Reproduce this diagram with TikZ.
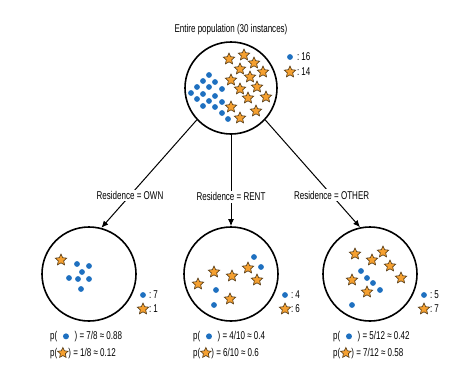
\documentclass[tikz,border=0pt]{standalone}
\usepackage{fontspec}
\setmainfont{Liberation Sans}[FakeStretch=0.71]
\usetikzlibrary{shapes.geometric,arrows.meta}
\definecolor{dotblue}{RGB}{30,112,192}
\definecolor{starorange}{RGB}{245,160,48}
\definecolor{staredge}{RGB}{80,55,20}
\tikzset{
  bdot/.style={circle,fill=dotblue,minimum size=5.8pt,inner sep=0pt},
  ostar/.style={star,star points=5,star point ratio=2.1,minimum size=12pt,inner sep=0pt,fill=starorange,draw=staredge,line width=0.6pt},
  group/.style={circle,draw,line width=1.6pt,inner sep=0pt},
  branch/.style={line width=1pt,-{Latex[length=7pt,width=6pt]}},
  cond/.style={fill=white,inner sep=1.5pt},
  count/.style={anchor=west,inner sep=0pt},
}
\newcommand{\sdot}{\tikz[baseline=-0.6ex]\node[bdot,minimum size=6pt]{};}
\newcommand{\sstar}{\tikz[baseline=-0.6ex]\node[ostar,minimum size=11pt]{};}
\begin{document}
\begin{tikzpicture}[x=1pt,y=-1pt,font=\fontsize{11.3pt}{13pt}\selectfont]
			\useasboundingbox (0,0) rectangle (474,367);
			% parent
			\node (title) at (231,30) {Entire population (30 instances)};
			\node[group,minimum size=92pt] (top) at (231,88) {};
			\foreach \x/\y [count=\i] in {209/75,203/81,215/82,197/87,209/87,222/89,191/93,203/94,215/96,197/99,209/101,222/102,203/106,215/107,222/113,228/119}
				\node[bdot] (td\i) at (\x,\y) {};
			\foreach \x/\y [count=\i] in {229/59,244/55,254/63,240/69,263/72,250/77,231/80,257/87,240/89,266/97,248/98,231/107,256/111,240/118}
				\node[ostar] (ts\i) at (\x,\y) {};
			\node[bdot] (tkd) at (290,57) {};
			\node[count] (tnd) at (297,57) {:\,16};
			\node[ostar] (tks) at (290,72) {};
			\node[count] (tns) at (297,72) {:\,14};
			% children
			\node[group,minimum size=94pt] (own) at (89,274) {};
			\node[group,minimum size=94pt] (rent) at (231,274) {};
			\node[group,minimum size=94pt] (other) at (370,274) {};
			\path (top.223) edge[branch] node[cond,pos=0.7] (cown) {Residence = OWN} (own.75);
			\path (top.south) edge[branch] node[cond,pos=0.68] (crent) {Residence = RENT} (rent.north);
			\path (top.-43) edge[branch] node[cond,pos=0.7] (cother) {Residence = OTHER} (other.102);
			% own
			\node[ostar] (os1) at (61,260) {};
			\foreach \x/\y [count=\i] in {77/264,89/266,82/272,69/278,78/279,89/279,81/289}
				\node[bdot] (od\i) at (\x,\y) {};
			\node[bdot] (okd) at (143,295) {};
			\node[count] (ond) at (149,295) {:\,7};
			\node[ostar] (oks) at (143,309) {};
			\node[count] (ons) at (149,309) {:\,1};
			\node[count] (op1) at (50,337) {p(\enspace\sdot\enspace) = 7/8 ≈ 0.88};
			\node[count] (op2) at (50,353) {p(\sstar) = 1/8 ≈ 0.12};
			% rent
			\foreach \x/\y [count=\i] in {198/284,214/272,232/276,248/268,257/280,230/299}
				\node[ostar] (rs\i) at (\x,\y) {};
			\foreach \x/\y [count=\i] in {254/257,261/267,216/290,214/305}
				\node[bdot] (rd\i) at (\x,\y) {};
			\node[bdot] (rkd) at (285,295) {};
			\node[count] (rnd) at (291,295) {:\,4};
			\node[ostar] (rks) at (285,309) {};
			\node[count] (rns) at (291,309) {:\,6};
			\node[count] (rp1) at (193,337) {p(\enspace\sdot\enspace) = 4/10 ≈ 0.4};
			\node[count] (rp2) at (193,353) {p(\sstar) = 6/10 ≈ 0.6};
			% other
			\foreach \x/\y [count=\i] in {355/254,372/260,383/252,390/266,401/278,352/280,367/292}
				\node[ostar] (es\i) at (\x,\y) {};
			\foreach \x/\y [count=\i] in {361/271,367/278,373/283,380/290,352/305}
				\node[bdot] (ed\i) at (\x,\y) {};
			\node[bdot] (ekd) at (424,295) {};
			\node[count] (end) at (430,295) {:\,5};
			\node[ostar] (eks) at (424,309) {};
			\node[count] (ens) at (430,309) {:\,7};
			\node[count] (ep1) at (333,337) {p(\enspace\sdot\enspace) = 5/12 ≈ 0.42};
			\node[count] (ep2) at (333,353) {p(\sstar) = 7/12 ≈ 0.58};
		\end{tikzpicture}
\end{document}
